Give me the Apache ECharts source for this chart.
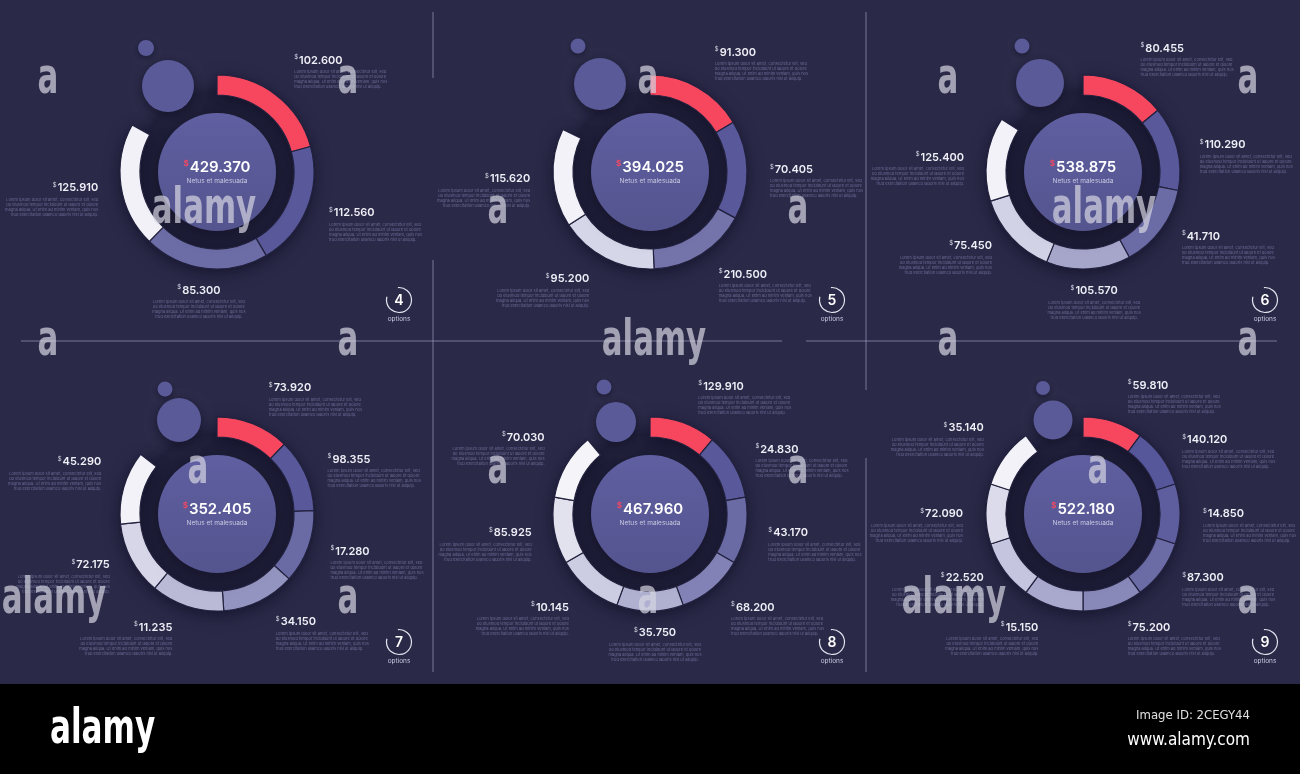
<!DOCTYPE html>
<html>
<head>
<meta charset="utf-8">
<script src="https://cdn.jsdelivr.net/npm/echarts@6/dist/echarts.min.js"></script>
<style>
html,body{margin:0;padding:0;background:#2a2948;}
#chart{width:1300px;height:774px;}
</style>
</head>
<body>
<div id="chart"></div>
<script>
// totals shown in the middle of each donut
var totals = [429.370, 394.025, 538.875, 352.405, 467.960, 522.180];
// option values, clockwise from the red segment
var options4 = [102.600, 112.560, 85.300, 125.910];
var options5 = [91.300, 70.405, 210.500, 95.200, 115.620];
var options6 = [80.455, 110.290, 41.710, 105.570, 75.450, 125.400];
var options7 = [73.920, 98.355, 17.280, 34.150, 11.235, 72.175, 45.290];
var options8 = [129.910, 24.830, 43.170, 68.200, 35.750, 10.145, 85.925, 70.030];
var options9 = [59.810, 140.120, 14.850, 87.300, 75.200, 15.150, 22.520, 72.090, 35.140];
var centerCaption = 'Netus et malesuada';
var badgeCaption = 'options';
var lorem = [
    'Lorem ipsum dolor sit amet, consectetur elit, sed',
    'do eiusmod tempor incididunt ut labore et dolore',
    'magna aliqua. Ut enim ad minim veniam, quis nos',
    'trud exercitation ullamco laboris nisi ut aliquip.'
];

var sets = [options4, options5, options6, options7, options8, options9];
var centers = [[217,172],[650,172],[1083,172],[217,514],[650,514],[1083,514]];
var sweeps = [299, 296, 303, 308, 320, 324];
var palettes = [
    ['#f6475f','#58589a','#6c6ca6','#f1f1f7'],
    ['#f6475f','#58589a','#7474ab','#d6d6e9','#f2f2f8'],
    ['#f6475f','#58589a','#6b6ba6','#a6a6cb','#d2d2e6','#f2f2f8'],
    ['#f6475f','#58589a','#6a6aa5','#9494c0','#babad7','#d6d6e8','#f2f2f8'],
    ['#f6475f','#58589a','#6a6aa5','#8282b6','#b0b0d1','#cccce2','#e2e2ef','#f4f4f9'],
    ['#f6475f','#56569a','#5e5e9f','#6b6ba6','#8888b9','#a9a9ce','#c5c5df','#dbdbeb','#f2f2f8']
];
// decorative bubbles next to the gap of each ring
var bigOff = [[-49,-86],[-50,-88],[-43,-89],[-38,-94],[-34,-92],[-30,-94]];
var bigR = [26,26,24,22,20,19.5];
var smallOff = [[-71,-124],[-72,-126],[-61,-126],[-52,-125],[-46,-127],[-40,-126]];
var smallR = [8,7.5,7.5,7.5,7.5,7];

var BG = '#2a2948';
var series = [];
var graphic = [];

function labelText(v){
    return '{s|$}{v|' + v.toFixed(3) + '}\n' + lorem.map(function(l){return '{p|' + l + '}';}).join('\n');
}

// value sits on the anchor, text hangs below; nudge top/bottom ones like the layout does
function makeLayout(i){
    var n = sets[i].length, step = sweeps[i] / n;
    return function(p){
        var mid = (90 - step * (p.dataIndex + 0.5)) * Math.PI / 180;
        var s = Math.sin(mid), c = Math.cos(mid);
        var up = 0;
        if (s > 0.75) up = 25;
        else if (s > 0.25 && c < 0) up = 22;
        else if (s > 0.25) up = 10;
        else if (s < -0.75) up = -10;
        var out = {verticalAlign: 'top', dy: -9 - up};
        if (Math.abs(c) < 0.2) {
            out.align = 'center';
            out.dx = c >= 0 ? -6 : 6;
        }
        return out;
    };
}

for (var i = 0; i < 6; i++) {
    var cx = centers[i][0], cy = centers[i][1];
    // dark well behind the ring
    series.push({
        type: 'pie', silent: true, animation: false, z: 1,
        center: [cx, cy], radius: [0, 80],
        label: {show: false}, labelLine: {show: false},
        itemStyle: {color: '#201f3a', shadowBlur: 16, shadowColor: 'rgba(10,10,28,0.6)'},
        data: [1]
    });
    // shadow under the ring
    series.push({
        type: 'pie', silent: true, animation: false, z: 1,
        center: [cx, cy], radius: [77, 97],
        startAngle: 90, endAngle: 90 - sweeps[i],
        label: {show: false}, labelLine: {show: false},
        itemStyle: {color: BG, shadowBlur: 16, shadowOffsetY: 4, shadowColor: 'rgba(8,8,26,0.55)'},
        data: [1]
    });
    // the ring itself, equal segments
    series.push({
        type: 'pie', silent: true, animation: false, z: 3,
        center: [cx, cy], radius: [77, 97],
        startAngle: 90, endAngle: 90 - sweeps[i],
        avoidLabelOverlap: false,
        itemStyle: {borderColor: '#22213e', borderWidth: 1.2},
        label: {
            show: true, position: 'outside',
            formatter: function(p){ return labelText(p.data.amount); },
            rich: {
                s: {fontSize: 6, color: '#dcdcea', fontFamily: 'Inter', padding: [0,1,6,0]},
                v: {fontSize: 11, fontWeight: 600, color: '#efeff7', fontFamily: 'Inter', lineHeight: 18},
                p: {fontSize: 4, color: '#6b6a94', fontFamily: 'Inter', lineHeight: 5}
            }
        },
        labelLine: {show: false, length: 12, length2: 6},
        labelLayout: makeLayout(i),
        data: sets[i].map(function(v, k){
            return {value: 1, amount: v, itemStyle: {color: palettes[i][k]}};
        })
    });
    // inner disc with the total
    series.push({
        type: 'pie', silent: true, animation: false, z: 4,
        center: [cx, cy], radius: [0, 59],
        labelLine: {show: false},
        itemStyle: {
            color: new echarts.graphic.LinearGradient(0, 0, 0, 1, [
                {offset: 0, color: '#5f5fa1'}, {offset: 1, color: '#54548f'}
            ]),
            shadowBlur: 18, shadowOffsetY: 4, shadowColor: 'rgba(5,5,20,0.5)'
        },
        label: {
            show: true, position: 'center',
            formatter: '{s|$}{v|' + totals[i].toFixed(3) + '}\n{n|' + centerCaption + '}',
            rich: {
                s: {fontSize: 8, color: '#f6475f', fontFamily: 'Inter', fontWeight: 600, padding: [0,1,8,0]},
                v: {fontSize: 15, fontWeight: 600, color: '#ffffff', fontFamily: 'Inter', lineHeight: 19},
                n: {fontSize: 6.5, color: '#c9c9e2', fontFamily: 'Inter', lineHeight: 9}
            }
        },
        data: [1]
    });

    // bubbles
    graphic.push({
        type: 'circle', z: 5, silent: true,
        shape: {cx: cx + bigOff[i][0], cy: cy + bigOff[i][1], r: bigR[i]},
        style: {fill: '#5a5a98', shadowBlur: 12, shadowOffsetY: 3, shadowColor: 'rgba(5,5,20,0.45)'}
    });
    graphic.push({
        type: 'circle', z: 5, silent: true,
        shape: {cx: cx + smallOff[i][0], cy: cy + smallOff[i][1], r: smallR[i]},
        style: {fill: '#5a5a98', shadowBlur: 6, shadowOffsetY: 2, shadowColor: 'rgba(5,5,20,0.4)'}
    });

    // "N options" badge
    var bx = cx + 182, by = cy + 128;
    graphic.push({
        type: 'arc', z: 5, silent: true,
        shape: {cx: bx, cy: by, r: 12.5, startAngle: -95 * Math.PI / 180, endAngle: 195 * Math.PI / 180, clockwise: true},
        style: {stroke: '#e4e4f0', lineWidth: 1.2, fill: 'transparent'}
    });
    graphic.push({
        type: 'text', z: 5, silent: true, x: bx, y: by + 1,
        style: {text: String(sets[i].length), fill: '#ffffff', font: '600 14px Inter', align: 'center', verticalAlign: 'middle'}
    });
    graphic.push({
        type: 'text', z: 5, silent: true, x: bx, y: by + 19,
        style: {text: badgeCaption, fill: '#c9c9e0', font: '6.5px Inter', align: 'center', verticalAlign: 'middle'}
    });
}

// divider lines
var lines = [[433,12,433,78],[433,260,433,672],[866,12,866,390],[866,458,866,672],[21,341,782,341],[806,341,1277,341]];
lines.forEach(function(l){
    graphic.push({
        type: 'line', z: 2, silent: true,
        shape: {x1: l[0], y1: l[1], x2: l[2], y2: l[3]},
        style: {stroke: 'rgba(175,175,210,0.6)', lineWidth: 1}
    });
});

// stock watermark
var wmFill = 'rgba(214,214,226,0.7)';
var wmRows = [78, 208, 340, 468, 598];
var wordAt = {'198,208': 1, '1098,208': 1, '648,340': 1, '48,598': 1, '948,598': 1};
wmRows.forEach(function(y, j){
    for (var k = 0; k < 9; k++) {
        if ((k + j) % 2) continue;
        var x = 48 + 150 * k;
        var word = wordAt[x + ',' + y];
        graphic.push({
            type: 'text', z: 60, silent: true,
            x: word ? x + 6 : x, y: y + 2, scaleX: 0.7,
            style: {text: word ? 'alamy' : 'a', fill: wmFill, font: 'bold 49px "DejaVu Sans Condensed"', align: 'center', verticalAlign: 'middle'}
        });
    }
});

// bottom strip
graphic.push({type: 'rect', z: 50, silent: true, shape: {x: 0, y: 684, width: 1300, height: 90}, style: {fill: '#000000'}});
graphic.push({
    type: 'text', z: 51, silent: true, x: 50, y: 731, scaleX: 0.72,
    style: {text: 'alamy', fill: '#ffffff', font: 'bold 48px "DejaVu Sans Condensed"', align: 'left', verticalAlign: 'middle'}
});
graphic.push({
    type: 'text', z: 51, silent: true, x: 1250, y: 716,
    style: {text: 'Image ID: 2CEGY44', fill: '#e0e0e0', font: '13px "DejaVu Sans Condensed"', align: 'right', verticalAlign: 'middle'}
});
graphic.push({
    type: 'text', z: 51, silent: true, x: 1250, y: 741,
    style: {text: 'www.alamy.com', fill: '#ffffff', font: '17px "DejaVu Sans Condensed"', align: 'right', verticalAlign: 'middle'}
});

var myChart = echarts.init(document.getElementById('chart'));
myChart.setOption({
    backgroundColor: BG,
    animation: false,
    series: series,
    graphic: graphic
});
</script>
</body>
</html>
